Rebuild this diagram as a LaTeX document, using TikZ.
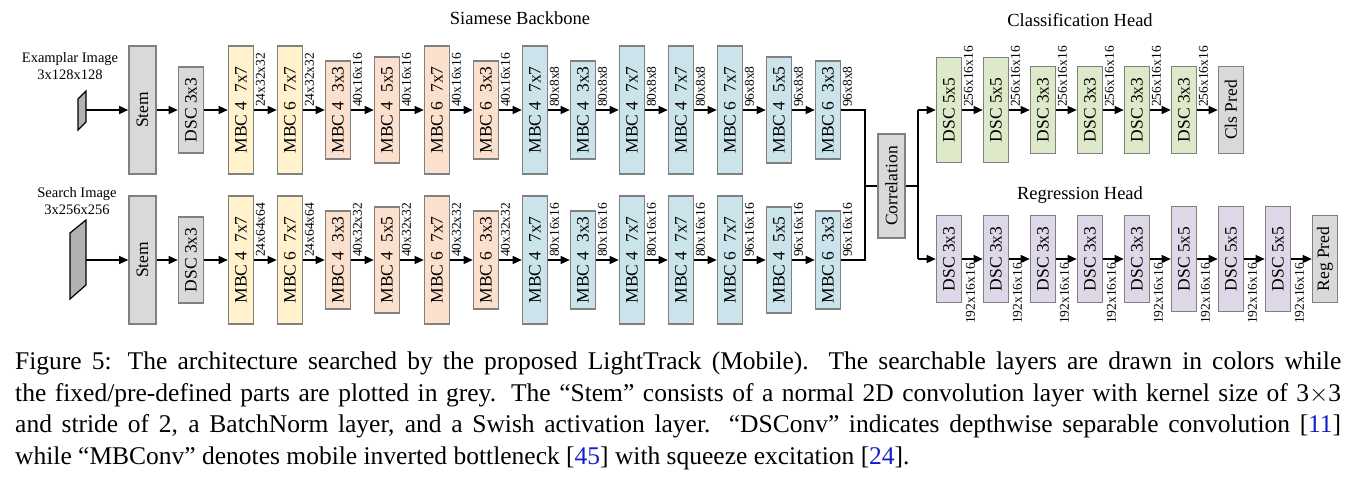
\documentclass[tikz,border=0pt]{standalone}
\usepackage{fontspec}
\setmainfont{Liberation Serif}
\usetikzlibrary{arrows.meta}
\definecolor{bd}{RGB}{128,128,128}
\definecolor{cg}{RGB}{217,217,217}
\definecolor{cy}{RGB}{255,242,204}
\definecolor{co}{RGB}{251,224,206}
\definecolor{cb}{RGB}{203,228,235}
\definecolor{cgr}{RGB}{221,233,201}
\definecolor{cp}{RGB}{222,215,232}
\definecolor{cite}{RGB}{20,30,200}
\begin{document}
\begin{tikzpicture}[x=1pt,y=-1pt,
  box/.style={draw=bd,line width=1.6pt,rotate=90,inner sep=0pt,minimum height=25pt,font=\fontsize{17.5}{17.5}\selectfont},
  ar/.style={line width=1.3pt,-{Triangle[length=9pt,width=8pt]}},
  ln/.style={line width=1.3pt},
  dim/.style={rotate=90,inner sep=0pt,font=\fontsize{13.5}{13.5}\selectfont},
  ttl/.style={font=\fontsize{18.5}{18.5}\selectfont},
  inp/.style={align=center,font=\fontsize{14.5}{17}\selectfont}]
\useasboundingbox (0,0) rectangle (1358,491);
% titles
\node[ttl] (t1) at (520,18) {Siamese Backbone};
\node[ttl] (t2) at (1080,20) {Classification Head};
\node[ttl] (t3) at (1080,195) {Regression Head};
\node[inp] (i1) at (70,66) {Examplar Image\\3x128x128};
\node[inp] (i2) at (77,201) {Search Image\\3x256x256};
\draw[line width=1.2pt,fill=gray!60] (78,99)--(86,91)--(86,122)--(78,130)--cycle;
\draw[line width=1.2pt,fill=gray!60] (70,233)--(86,220)--(86,285)--(70,299)--cycle;
\coordinate (ia) at (86,110);
\coordinate (ib) at (86,260);
% backbone
\foreach \r/\y in {a/110,b/260}{
  \node[box,fill=cg,minimum width=128pt,minimum height=27pt] (\r0) at (142.5,\y) {Stem};
}
\foreach \i/\x/\h/\c/\t/\la/\lb in {
 1/191/86/cg/DSC 3x3/-/-,
 2/241/128/cy/MBC 4\ \ 7x7/24x32x32/24x64x64,
 3/290/128/cy/MBC 6\ \ 7x7/24x32x32/24x64x64,
 4/338/98/co/MBC 4\ \ 3x3/40x16x16/40x32x32,
 5/387/106/co/MBC 4\ \ 5x5/40x16x16/40x32x32,
 6/437/128/co/MBC 6\ \ 7x7/40x16x16/40x32x32,
 7/486/98/co/MBC 6\ \ 3x3/40x16x16/40x32x32,
 8/535/128/cb/MBC 4\ \ 7x7/80x8x8/80x16x16,
 9/583/98/cb/MBC 4\ \ 3x3/80x8x8/80x16x16,
 10/632/128/cb/MBC 4\ \ 7x7/80x8x8/80x16x16,
 11/681/128/cb/MBC 4\ \ 7x7/80x8x8/80x16x16,
 12/730/128/cb/MBC 6\ \ 7x7/96x8x8/96x16x16,
 13/779/106/cb/MBC 4\ \ 5x5/96x8x8/96x16x16,
 14/828/98/cb/MBC 6\ \ 3x3/96x8x8/96x16x16}{
  \pgfmathtruncatemacro\p{\i-1}
  \node[box,fill=\c,minimum width=\h pt] (a\i) at (\x,110) {\t};
  \node[box,fill=\c,minimum width=\h pt] (b\i) at (\x,260) {\t};
  \draw[ar] (a\p) -- (a\i);
  \draw[ar] (b\p) -- (b\i);
  \ifnum\i>1
   \node[dim,anchor=north west] (la\i) at ([xshift=1.5pt,yshift=3pt]a\i.south) {\la};
   \node[dim,anchor=north west] (lb\i) at ([xshift=1.5pt,yshift=3pt]b\i.south) {\lb};
  \fi
}
\draw[ar] (ia) -- (a0);
\draw[ar] (ib) -- (b0);
\node[box,fill=cg,minimum width=104pt,minimum height=27pt] (corr) at (891.5,186) {Correlation};
\coordinate (j1) at (865,110);
\coordinate (j2) at (865,260);
\coordinate (jm) at (865,186);
\draw[ln] (a14.south) -- (j1) -- (j2) -- (b14.south);
\draw[ln] (jm) -- (corr);
\coordinate (s1) at (918,110);
\coordinate (s2) at (918,259);
\coordinate (sm) at (918,186);
\draw[ln] (corr) -- (sm);
% classification head
\foreach \i/\x/\h/\c/\t in {1/949/105/cgr/DSC 5x5,2/996/105/cgr/DSC 5x5,3/1043/87/cgr/DSC 3x3,4/1090/87/cgr/DSC 3x3,5/1137/87/cgr/DSC 3x3,6/1184/87/cgr/DSC 3x3,7/1231/87/cg/Cls Pred}{
  \node[box,fill=\c,minimum width=\h pt] (c\i) at (\x,110) {\t};
}
\foreach \i/\n in {1/2,2/3,3/4,4/5,5/6,6/7}{
  \draw[ar] (c\i) -- (c\n);
  \node[dim,anchor=north west] (lc\i) at ([xshift=1.5pt,yshift=3pt]c\i.south) {256x16x16};
}
% regression head
\foreach \i/\x/\h/\c/\t in {1/949/87/cp/DSC 3x3,2/996/87/cp/DSC 3x3,3/1043/87/cp/DSC 3x3,4/1090/87/cp/DSC 3x3,5/1137/87/cp/DSC 3x3,6/1184/105/cp/DSC 5x5,7/1231/105/cp/DSC 5x5,8/1278/105/cp/DSC 5x5,9/1325/87/cg/Reg Pred}{
  \node[box,fill=\c,minimum width=\h pt] (r\i) at (\x,259) {\t};
}
\foreach \i/\n in {1/2,2/3,3/4,4/5,5/6,6/7,7/8,8/9}{
  \draw[ar] (r\i) -- (r\n);
  \node[dim,anchor=north east] (lr\i) at ([xshift=3.5pt,yshift=-4pt]r\i.south) {192x16x16};
}
\draw[ln] (s1) -- (s2);
\draw[ar] (s1) -- (c1);
\draw[ar] (s2) -- (r1);
% caption
\node[anchor=north west,inner sep=0pt,text width=1326pt,align=justify,font=\fontsize{25.5}{31.5}\selectfont] (cap) at (15,352) {Figure 5: The architecture searched by the proposed LightTrack (Mobile). The searchable layers are drawn in colors while\linebreak the fixed/pre-defined parts are plotted in grey. The “Stem” consists of a normal 2D convolution layer with kernel size of 3$\times$3\linebreak and stride of 2, a BatchNorm layer, and a Swish activation layer. “DSConv” indicates depthwise separable convolution [{\color{cite}11}]\linebreak while “MBConv” denotes mobile inverted bottleneck [{\color{cite}45}] with squeeze excitation [{\color{cite}24}].};
\end{tikzpicture}
\end{document}
